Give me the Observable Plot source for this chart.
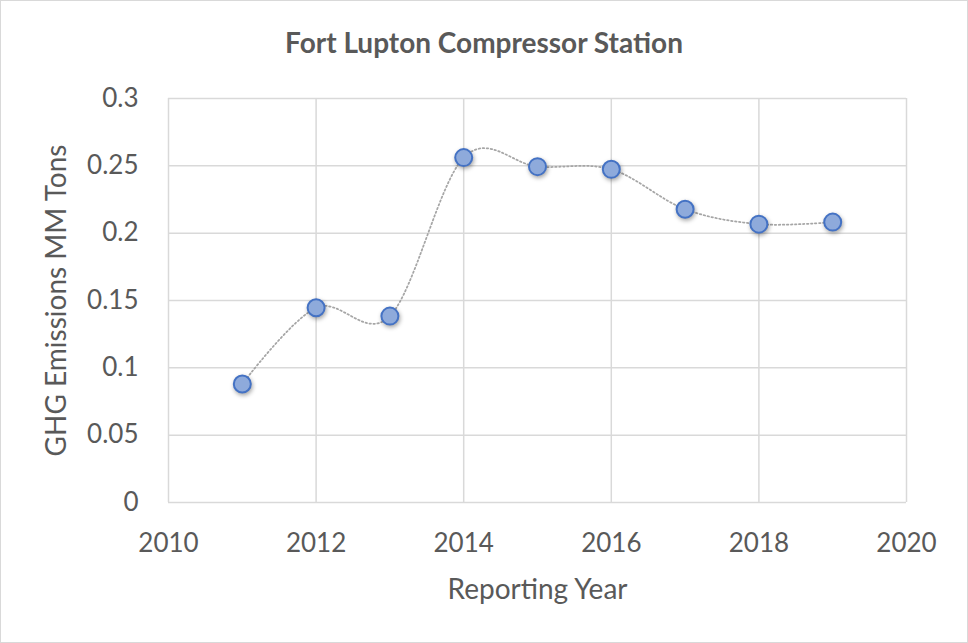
<!DOCTYPE html>
<html>
<head>
<meta charset="utf-8">
<script src="https://cdn.jsdelivr.net/npm/d3@7"></script>
<script src="https://cdn.jsdelivr.net/npm/@observablehq/plot@0.6"></script>
<style>
  html, body { margin: 0; padding: 0; background: #fff; }
  #wrap { position: relative; width: 966px; height: 641px; border: 1px solid #d9d9d9; overflow: hidden; font-family: Lato, "Open Sans", sans-serif; }
  #title { height: 79px; box-sizing: border-box; padding-top: 24px; text-align: center; font-size: 28px; font-weight: bold; color: #595959; }
  .pts circle { filter: drop-shadow(1px 2px 2px rgba(0,0,0,0.35)); }
</style>
</head>
<body>
<div id="wrap">
  <div id="title">Fort Lupton Compressor Station</div>
  <div id="chart"></div>
</div>
<script>
const chartTitle = "Fort Lupton Compressor Station";
const years = [2011, 2012, 2013, 2014, 2015, 2016, 2017, 2018, 2019];
const emissions = [0.088, 0.1446, 0.1384, 0.2561, 0.2494, 0.2474, 0.2178, 0.2067, 0.2082];
const xTicks = [2010, 2012, 2014, 2016, 2018, 2020];
const yTicks = [0, 0.05, 0.1, 0.15, 0.2, 0.25, 0.3];
const yTickLabels = ["0", "0.05", "0.1", "0.15", "0.2", "0.25", "0.3"];
const xLabel = "Reporting Year";
const yLabel = "GHG Emissions MM Tons";

const data = years.map((y, i) => ({year: y, value: emissions[i]}));
const gridColor = "#d9d9d9";
const textColor = "#595959";

const chart = Plot.plot({
  width: 966,
  height: 562,
  marginTop: 18,
  marginBottom: 140,
  marginLeft: 167,
  marginRight: 61,
  style: {fontFamily: "Lato, 'Open Sans', sans-serif", fontSize: "26px", color: textColor, background: "#fff"},
  x: {domain: [2010, 2020]},
  y: {domain: [0, 0.3]},
  marks: [
    Plot.ruleX(xTicks, {x: d => d, stroke: gridColor, strokeWidth: 1.5, strokeOpacity: 1}),
    Plot.ruleY(yTicks, {y: d => d, stroke: gridColor, strokeWidth: 1.5, strokeOpacity: 1}),
    Plot.axisX({ticks: xTicks, tickSize: 0, tickPadding: 31, tickFormat: d => String(d), label: null, fontSize: 26, fill: textColor}),
    Plot.axisY({ticks: yTicks, tickSize: 0, tickPadding: 30, tickFormat: d => yTickLabels[yTicks.indexOf(d)], label: null, fontSize: 26, fill: textColor}),
    Plot.text([xLabel], {frameAnchor: "bottom", lineAnchor: "middle", textAnchor: "middle", dy: 88, fontSize: 28, fill: textColor}),
    Plot.text([yLabel], {frameAnchor: "left", textAnchor: "middle", lineAnchor: "middle", dx: -111, rotate: -90, fontSize: 28, fill: textColor}),
    Plot.line(data, {x: "year", y: "value", curve: "cardinal", stroke: "#a6a6a6", strokeWidth: 1.75, strokeDasharray: "1.5,2.5"}),
    Plot.dot(data, {x: "year", y: "value", r: 8.5, fill: "#8eaadb", stroke: "#4472c4", strokeWidth: 2, className: "pts"})
  ]
});
document.getElementById("chart").appendChild(chart);
</script>
</body>
</html>
